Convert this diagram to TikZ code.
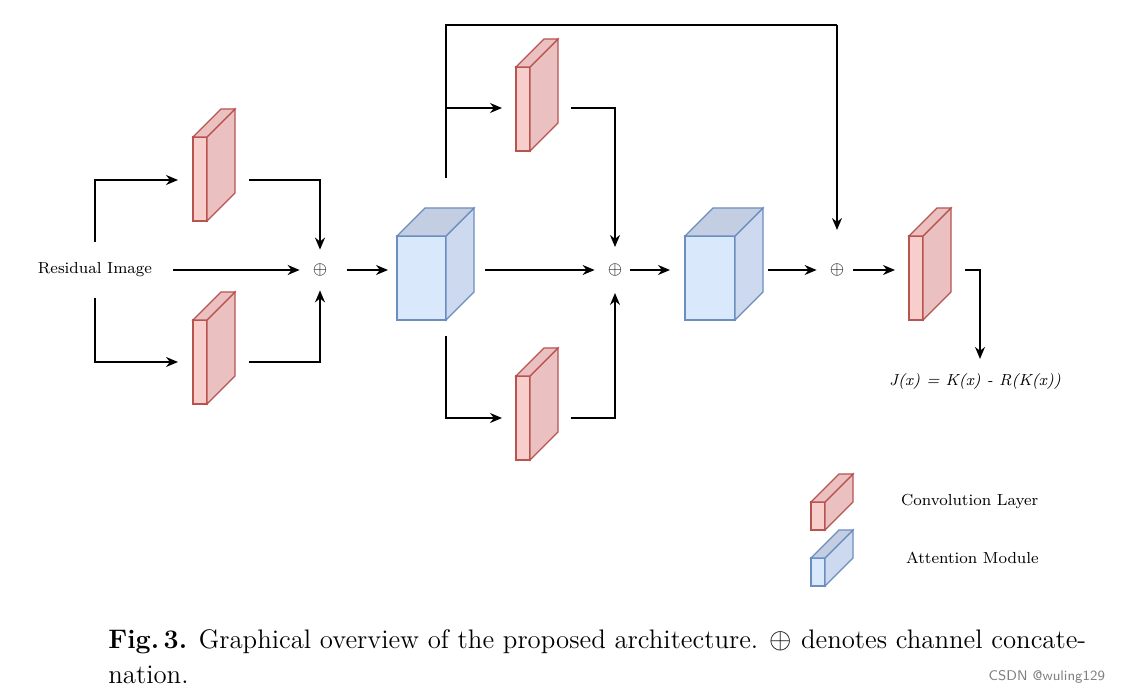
\documentclass[tikz,border=0pt]{standalone}
\usepackage{tikz}
\usetikzlibrary{arrows.meta,positioning,calc}
\definecolor{convfront}{HTML}{F8CECC}
\definecolor{convside}{HTML}{EBC0C0}
\definecolor{convline}{HTML}{B85450}
\definecolor{attfront}{HTML}{DAE8FC}
\definecolor{attside}{HTML}{CCD9EE}
\definecolor{atttop}{HTML}{C3CEE2}
\definecolor{attline}{HTML}{6C8EBF}
\tikzset{
  conv front/.style={draw=convline, fill=convfront, line width=0.6pt},
  conv side/.style={draw=convline, fill=convside, line width=0.6pt},
  conv top/.style={draw=convline, fill=convside, line width=0.6pt},
  att front/.style={draw=attline, fill=attfront, line width=0.6pt},
  att side/.style={draw=attline, fill=attside, line width=0.6pt},
  att top/.style={draw=attline, fill=atttop, line width=0.6pt}
}
% cuboid: name, kind (conv/att), left x, top y of front face, width, height, depth
\newcommand{\cuboid}[7]{%
  \path[#2 front] (#3,#4) rectangle (#3+#5,#4+#6);
  \path[#2 side] (#3+#5,#4) -- (#3+#5+#7,#4-#7) -- (#3+#5+#7,#4+#6-#7) -- (#3+#5,#4+#6) -- cycle;
  \path[#2 top] (#3,#4) -- (#3+#7,#4-#7) -- (#3+#5+#7,#4-#7) -- (#3+#5,#4) -- cycle;
  \coordinate (#1) at (#3+#5/2+#7/2,#4+#6/2-#7/2);
}
\begin{document}
\begin{tikzpicture}[
  x=0.5pt, y=-0.5pt,
  arrow/.style={-{Stealth[length=6pt,width=5pt]}, line width=0.7pt},
  line/.style={line width=0.7pt},
  plus/.style={circle, inner sep=0pt, minimum size=20pt, font=\small},
  lbl/.style={font=\footnotesize}
]
\useasboundingbox (0,0) rectangle (1124,694);
% blocks
\cuboid{conv1}{conv}{193}{137}{14}{84}{28}
\cuboid{conv2}{conv}{193}{320}{14}{84}{28}
\cuboid{att1}{att}{397}{236}{49}{84}{28}
\cuboid{conv3}{conv}{516}{67}{14}{84}{28}
\cuboid{conv4}{conv}{516}{376}{14}{84}{28}
\cuboid{att2}{att}{685}{236}{50}{84}{28}
\cuboid{conv5}{conv}{909}{236}{14}{84}{28}
\cuboid{legconv}{conv}{811}{502}{14}{28}{28}
\cuboid{legatt}{att}{811}{558}{14}{28}{28}

\node[lbl] (res) at (95,270) {Residual Image};
\node[plus] (cat1) at (320,270) {$\oplus$};
\node[plus] (cat2) at (615,270) {$\oplus$};
\node[plus] (cat3) at (837,270) {$\oplus$};
\node[lbl, font=\footnotesize\itshape] (out) at (975,382) {J(x) = K(x) - R(K(x))};
\node[lbl, anchor=west] (legc) at (894,502) {Convolution Layer};
\node[lbl, anchor=west] (lega) at (899,558) {Attention Module};

% first stage
\draw[arrow] (res.north) ++(0,-14) |- (178,180);
\draw[arrow] (res.south) ++(0,14) |- (178,362);
\draw[arrow] (res.east) ++(14,0) -- (cat1.west);
\draw[arrow] (249,180) -| (cat1.north);
\draw[arrow] (249,362) -| (cat1.south);
\draw[arrow] (cat1.east) ++(7,0) -- (388,270);
% second stage
\draw[line] (446,178) |- (837,25);
\draw[arrow] (837,25) -- ($(cat3)+(0,-40)$);
\draw[arrow] (446,108) -- (502,108);
\draw[arrow] (446,336) |- (502,418);
\draw[arrow] (571,108) -| ($(cat2)+(0,-23)$);
\draw[arrow] (571,418) -| ($(cat2)+(0,23)$);
\draw[arrow] (485,270) -- (cat2.west);
\draw[arrow] (630,270) -- (670,270);
% third stage
\draw[arrow] (768,270) -- (cat3.west);
\draw[arrow] (853,270) -- (895,270);
\draw[arrow] (965,270) -| ($(out.north)+(5,-8)$);

\node[anchor=north west, font=\fontsize{13.4}{17.5}\selectfont, align=left, inner sep=0pt] (cap) at (108,629)
  {\textbf{Fig.\,3.} Graphical overview of the proposed architecture. $\oplus$ denotes channel concate-\\nation.};
\node[anchor=east, font=\sffamily\fontsize{7}{8}\selectfont, text=gray] (mark) at (1112,677) {CSDN @wuling129};
\end{tikzpicture}
\end{document}
